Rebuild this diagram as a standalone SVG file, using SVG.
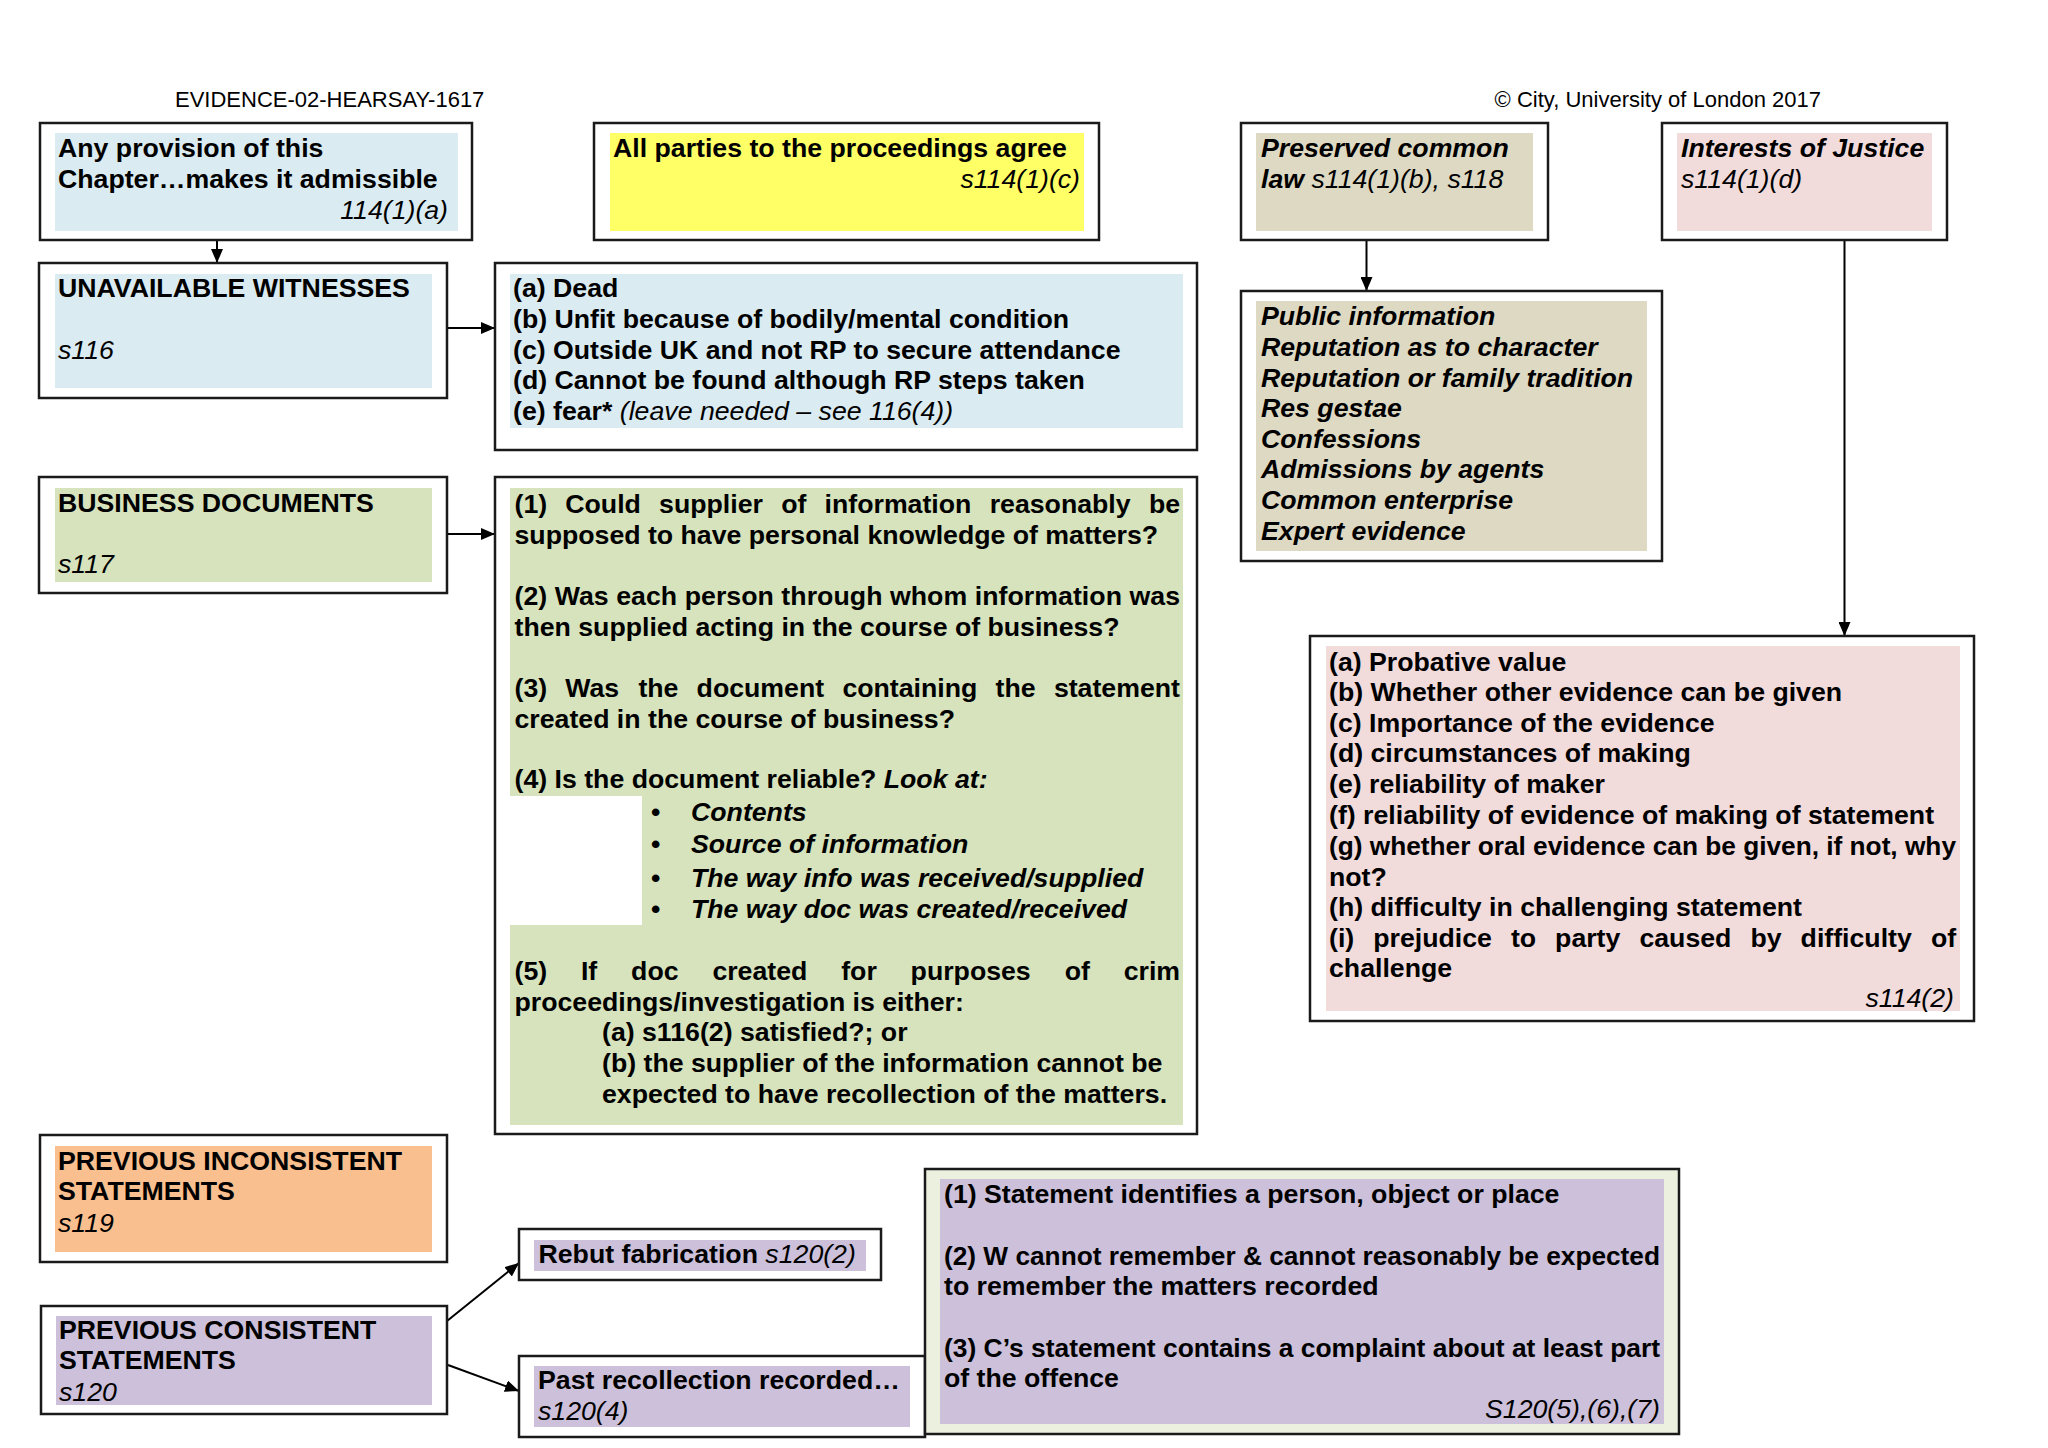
<svg xmlns="http://www.w3.org/2000/svg" width="2048" height="1448" viewBox="0 0 2048 1448">
<defs>
<style>
text{font-family:"Liberation Sans",Arial,sans-serif;fill:#000}
.t{font-size:26.7px;font-weight:bold}
.i{font-style:italic;font-weight:normal}
.bi{font-style:italic;font-weight:bold}
.hd{font-size:22px;font-weight:normal}
.fr{fill:#fff;stroke:#1a1a1a;stroke-width:2.5}
.blue{fill:#daebf1}.yel{fill:#ffff66}.tan{fill:#ddd9c3}.pink{fill:#f2dbdb}
.grn{fill:#d6e3bc}.org{fill:#fabf8f}.lav{fill:#ccc0da}
.cn{stroke:#000;stroke-width:2;fill:none;marker-end:url(#ah)}
</style>
<marker id="ah" markerUnits="userSpaceOnUse" markerWidth="14" markerHeight="12" refX="14" refY="6" orient="auto">
<path d="M0,0 L14,6 L0,12 z" fill="#000"/>
</marker>
</defs>
<rect width="2048" height="1448" fill="#fff"/>
<text class="hd" x="175" y="106.5">EVIDENCE-02-HEARSAY-1617</text>
<text class="hd" x="1821" y="106.5" text-anchor="end">© City, University of London 2017</text>

<g id="connectors">
<line class="cn" x1="217" y1="241" x2="217" y2="263"/>
<line class="cn" x1="447" y1="328" x2="495" y2="328"/>
<line class="cn" x1="447" y1="534" x2="495" y2="534"/>
<line class="cn" x1="1366.5" y1="241" x2="1366.5" y2="291"/>
<line class="cn" x1="1844.5" y1="241" x2="1844.5" y2="636"/>
<line class="cn" x1="447" y1="1321" x2="519" y2="1263"/>
<line class="cn" x1="448" y1="1365" x2="519" y2="1391"/>
</g>

<g id="any-provision">
<rect class="fr" x="40" y="123" width="432" height="117"/>
<rect class="blue" x="55" y="133" width="403" height="98"/>
<text class="t" x="58" y="157">Any provision of this</text>
<text class="t" x="58" y="187.5">Chapter…makes it admissible</text>
<text class="t i" x="448" y="219" text-anchor="end">114(1)(a)</text>
</g>

<g id="all-parties">
<rect class="fr" x="594" y="123" width="505" height="117"/>
<rect class="yel" x="610" y="133" width="474" height="98"/>
<text class="t" x="613" y="157">All parties to the proceedings agree</text>
<text class="t i" x="1080" y="187.5" text-anchor="end">s114(1)(c)</text>
</g>

<g id="preserved">
<rect class="fr" x="1241" y="123" width="307" height="117"/>
<rect class="tan" x="1256" y="133" width="277" height="98"/>
<text class="t bi" x="1261" y="157">Preserved common</text>
<text class="t" x="1261" y="188"><tspan class="bi">law</tspan><tspan class="i"> s114(1)(b), s118</tspan></text>
</g>

<g id="interests">
<rect class="fr" x="1662" y="123" width="285" height="117"/>
<rect class="pink" x="1677" y="133" width="255" height="98"/>
<text class="t bi" x="1681" y="157">Interests of Justice</text>
<text class="t i" x="1681" y="188">s114(1)(d)</text>
</g>

<g id="unavailable">
<rect class="fr" x="39" y="263" width="408" height="135"/>
<rect class="blue" x="55" y="274" width="377" height="114"/>
<text class="t" x="58" y="297">UNAVAILABLE WITNESSES</text>
<text class="t i" x="58" y="359">s116</text>
</g>

<g id="unavailable-list">
<rect class="fr" x="495" y="263" width="702" height="187"/>
<rect class="blue" x="510" y="274" width="673" height="154"/>
<text class="t" x="513" y="297">(a) Dead</text>
<text class="t" x="513" y="328">(b) Unfit because of bodily/mental condition</text>
<text class="t" x="513" y="358.5">(c) Outside UK and not RP to secure attendance</text>
<text class="t" x="513" y="389">(d) Cannot be found although RP steps taken</text>
<text class="t" x="513" y="420">(e) fear*<tspan class="i"> (leave needed – see 116(4))</tspan></text>
</g>

<g id="common-law-list">
<rect class="fr" x="1241" y="291" width="421" height="270"/>
<rect class="tan" x="1256" y="301" width="391" height="250"/>
<text class="t bi" x="1261" y="325">Public information</text>
<text class="t bi" x="1261" y="356">Reputation as to character</text>
<text class="t bi" x="1261" y="386.7">Reputation or family tradition</text>
<text class="t bi" x="1261" y="417">Res gestae</text>
<text class="t bi" x="1261" y="447.7">Confessions</text>
<text class="t bi" x="1261" y="478.3">Admissions by agents</text>
<text class="t bi" x="1261" y="509">Common enterprise</text>
<text class="t bi" x="1261" y="540">Expert evidence</text>
</g>

<g id="business">
<rect class="fr" x="39" y="477" width="408" height="116"/>
<rect class="grn" x="55" y="488" width="377" height="94"/>
<text class="t" x="58" y="511.7">BUSINESS DOCUMENTS</text>
<text class="t i" x="58" y="573.3">s117</text>
</g>

<g id="business-list">
<rect class="fr" x="495" y="477" width="702" height="657"/>
<rect class="grn" x="510" y="488" width="673" height="637"/>
<rect fill="#fff" x="510" y="796" width="132" height="129"/>
<text class="t" y="513"><tspan x="514.5">(1)</tspan><tspan x="565.3">Could</tspan><tspan x="659.1">supplier</tspan><tspan x="781.2">of</tspan><tspan x="824.6">information</tspan><tspan x="989.7">reasonably</tspan><tspan x="1148.9">be</tspan></text>
<text class="t" x="514.5" y="543.5">supposed to have personal knowledge of matters?</text>
<text class="t" x="514.5" y="605" textLength="665.5" lengthAdjust="spacing">(2) Was each person through whom information was</text>
<text class="t" x="514.5" y="635.5">then supplied acting in the course of business?</text>
<text class="t" y="697"><tspan x="514.5">(3)</tspan><tspan x="565.3">Was</tspan><tspan x="638.4">the</tspan><tspan x="696.6">document</tspan><tspan x="842.4">containing</tspan><tspan x="995.6">the</tspan><tspan x="1053.9">statement</tspan></text>
<text class="t" x="514.5" y="727.5">created in the course of business?</text>
<text class="t" x="514.5" y="788">(4) Is the document reliable? <tspan class="bi">Look at:</tspan></text>
<text class="t" x="651" y="821">•</text><text class="t bi" x="691" y="821">Contents</text>
<text class="t" x="651" y="853">•</text><text class="t bi" x="691" y="853">Source of information</text>
<text class="t" x="651" y="886.5">•</text><text class="t bi" x="691" y="886.5">The way info was received/supplied</text>
<text class="t" x="651" y="918">•</text><text class="t bi" x="691" y="918">The way doc was created/received</text>
<text class="t" y="980"><tspan x="514.5">(5)</tspan><tspan x="580.9">If</tspan><tspan x="631.1">doc</tspan><tspan x="712.4">created</tspan><tspan x="841.2">for</tspan><tspan x="910.6">purposes</tspan><tspan x="1064.7">of</tspan><tspan x="1123.7">crim</tspan></text>
<text class="t" x="514.5" y="1010.5">proceedings/investigation is either:</text>
<text class="t" x="602" y="1041">(a) s116(2) satisfied?; or</text>
<text class="t" x="602" y="1072">(b) the supplier of the information cannot be</text>
<text class="t" x="602" y="1102.5">expected to have recollection of the matters.</text>
</g>

<g id="interests-list">
<rect class="fr" x="1310" y="636" width="664" height="385"/>
<rect class="pink" x="1326" y="646" width="634" height="365"/>
<text class="t" x="1329" y="670.7">(a) Probative value</text>
<text class="t" x="1329" y="701">(b) Whether other evidence can be given</text>
<text class="t" x="1329" y="731.7">(c) Importance of the evidence</text>
<text class="t" x="1329" y="762.3">(d) circumstances of making</text>
<text class="t" x="1329" y="793.3">(e) reliability of maker</text>
<text class="t" x="1329" y="824">(f) reliability of evidence of making of statement</text>
<text class="t" x="1329" y="855" textLength="627" lengthAdjust="spacingAndGlyphs">(g) whether oral evidence can be given, if not, why</text>
<text class="t" x="1329" y="885.7">not?</text>
<text class="t" x="1329" y="916">(h) difficulty in challenging statement</text>
<text class="t" y="946.7"><tspan x="1329">(i)</tspan><tspan x="1373.2">prejudice</tspan><tspan x="1510.9">to</tspan><tspan x="1555.1">party</tspan><tspan x="1639.4">caused</tspan><tspan x="1750.4">by</tspan><tspan x="1800.6">difficulty</tspan><tspan x="1930.9">of</tspan></text>
<text class="t" x="1329" y="977.3">challenge</text>
<text class="t i" x="1954" y="1006.7" text-anchor="end">s114(2)</text>
</g>

<g id="inconsistent">
<rect class="fr" x="40" y="1135" width="407" height="127"/>
<rect class="org" x="55" y="1146" width="377" height="106"/>
<text class="t" x="58" y="1170">PREVIOUS INCONSISTENT</text>
<text class="t" x="58" y="1200">STATEMENTS</text>
<text class="t i" x="58" y="1231.7">s119</text>
</g>

<g id="consistent">
<rect class="fr" x="41" y="1306" width="406" height="108"/>
<rect class="lav" x="56" y="1316" width="376" height="89"/>
<text class="t" x="59" y="1339.3">PREVIOUS CONSISTENT</text>
<text class="t" x="59" y="1369.3">STATEMENTS</text>
<text class="t i" x="59" y="1400.7">s120</text>
</g>

<g id="rebut">
<rect class="fr" x="519" y="1229" width="362" height="51"/>
<rect class="lav" x="534" y="1240" width="332" height="31"/>
<text class="t" x="538.5" y="1263.3">Rebut fabrication <tspan class="i">s120(2)</tspan></text>
</g>

<g id="past-recollection">
<rect class="fr" x="519" y="1356" width="406" height="81"/>
<rect class="lav" x="534" y="1366" width="376" height="61"/>
<text class="t" x="538" y="1389.3">Past recollection recorded…</text>
<text class="t i" x="538" y="1420">s120(4)</text>
</g>

<g id="conditions">
<rect x="925" y="1169" width="754" height="265" fill="#ebf1de" stroke="#1a1a1a" stroke-width="2.5"/>
<rect class="lav" x="940" y="1179" width="724" height="245"/>
<text class="t" x="944" y="1203.3">(1) Statement identifies a person, object or place</text>
<text class="t" x="944" y="1265" textLength="716" lengthAdjust="spacingAndGlyphs">(2) W cannot remember &amp; cannot reasonably be expected</text>
<text class="t" x="944" y="1295">to remember the matters recorded</text>
<text class="t" x="944" y="1356.7" textLength="716" lengthAdjust="spacingAndGlyphs">(3) C’s statement contains a complaint about at least part</text>
<text class="t" x="944" y="1387.3">of the offence</text>
<text class="t i" x="1660" y="1418.3" text-anchor="end">S120(5),(6),(7)</text>
</g>
</svg>
